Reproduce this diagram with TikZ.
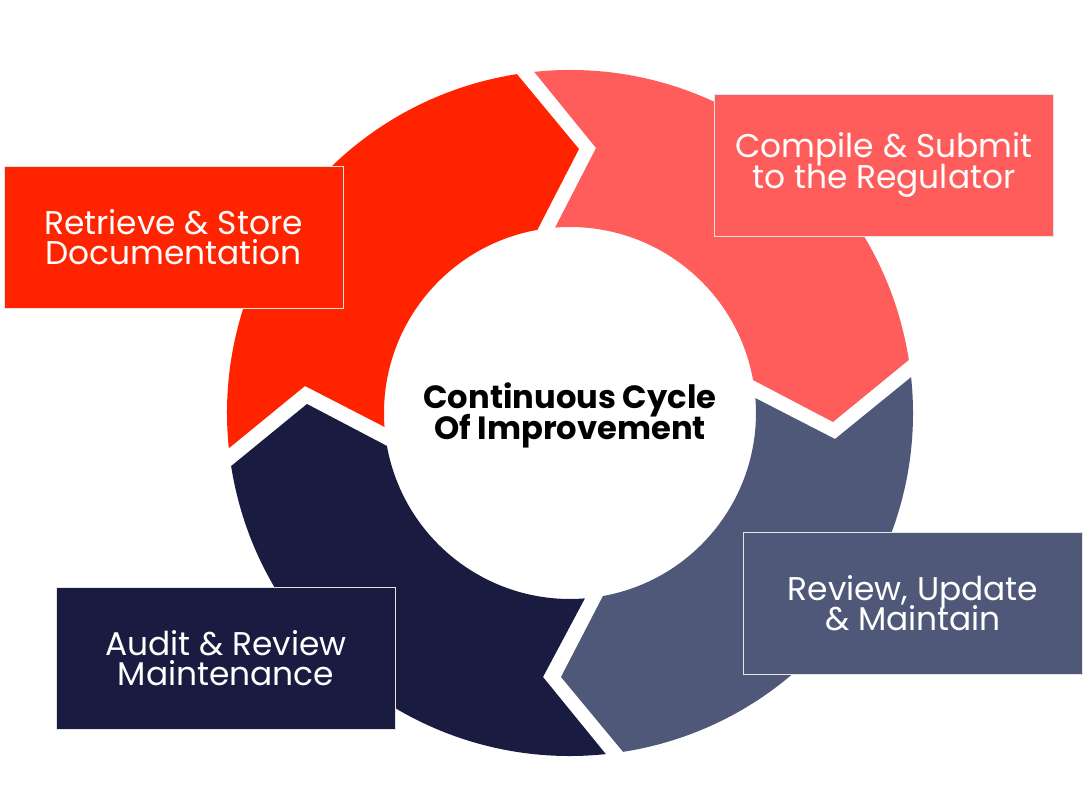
\documentclass[tikz,border=0pt]{standalone}
\usepackage{fontspec}
\setmainfont{Poppins}
\usetikzlibrary{positioning}

\definecolor{cyclered}{HTML}{FF2300}
\definecolor{cyclepink}{HTML}{FF5C5C}
\definecolor{cycleslate}{HTML}{4F5879}
\definecolor{cyclenavy}{HTML}{1A1B41}
\definecolor{boxedge}{HTML}{E4E4E4}
\lineskiplimit=-20pt

\begin{document}
\begin{tikzpicture}[x=0.02cm,y=0.02cm]
    \tikzset{
        stagebox/.style={
            draw=boxedge, line width=0.5pt, text=white,
            minimum width=339*0.02cm, minimum height=142*0.02cm,
            inner sep=0pt, align=center,
            font=\fontsize{18.7}{17.2}\selectfont
        },
        centerlabel/.style={
            align=center, text=black,
            font=\fontsize{18.3}{17.2}\selectfont\bfseries
        }
    }
    \useasboundingbox (-570,-387) rectangle (520,413);

    % Ring segments, clockwise from the red one
    \fill[cyclered] (185.9:343) arc[start angle=185.9, end angle=98.9, radius=343]
        -- (9,264) -- (100.1:186) arc[start angle=100.1, end angle=184.3, radius=186]
        -- (-265,27) -- cycle;
    \fill[cyclepink] (96:343) arc[start angle=96, end angle=8.9, radius=343]
        -- (263,-9) -- (10.2:186) arc[start angle=10.2, end angle=94.6, radius=186]
        -- (26,265) -- cycle;
    \fill[cycleslate] (6:343) arc[start angle=6, end angle=-81.1, radius=343]
        -- (-9,-264) -- (-79.8:186) arc[start angle=-79.8, end angle=4.6, radius=186]
        -- (265,-26) -- cycle;
    \fill[cyclenavy] (-84:343) arc[start angle=-84, end angle=-171.1, radius=343]
        -- (-263,9) -- (-169.8:186) arc[start angle=-169.8, end angle=-85.4, radius=186]
        -- (-27,-264) -- cycle;

    % Stage boxes
    \node[stagebox, fill=cyclered] (retrieve) at (-396.5,176) {Retrieve \& Store\\Documentation};
    \node[stagebox, fill=cyclepink] (compile) at (314,248) {Compile \& Submit\\to the Regulator};
    \node[stagebox, fill=cycleslate] (review) at (343,-190) {Review, Update\\\& Maintain};
    \node[stagebox, fill=cyclenavy] (audit) at (-344,-245) {Audit \& Review\\Maintenance};

    % Centre
    \node[centerlabel] (cycle) at (0,-2.5) {Continuous Cycle\\Of Improvement};
\end{tikzpicture}
\end{document}
